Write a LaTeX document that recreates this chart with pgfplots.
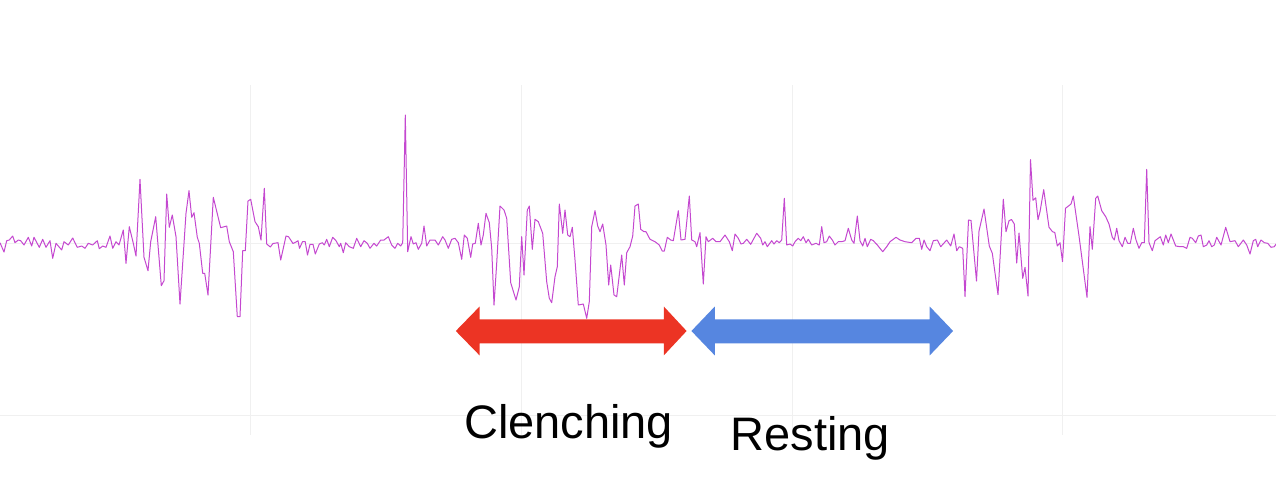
\documentclass[border=0pt]{standalone}
\usepackage{pgfplots}
\pgfplotsset{compat=1.18}
\usepackage{fontspec}
\setmainfont{Liberation Sans}
\definecolor{sig}{RGB}{196,72,208}
\definecolor{redarrow}{RGB}{236,52,36}
\definecolor{bluearrow}{RGB}{86,134,224}
\definecolor{gridc}{RGB}{240,240,240}
\begin{document}
\begin{tikzpicture}
\path[use as bounding box] (0,0) rectangle (1276bp,480bp);
\begin{axis}[
  scale only axis, width=1276bp, height=480bp,
  xmin=0, xmax=1276, ymin=0, ymax=480, y dir=reverse,
  hide axis, clip=true,
]
% grid
\addplot[gridc, line width=1bp] coordinates {(0,243) (1276,243)};
\addplot[gridc, line width=1bp] coordinates {(0,415) (1276,415)};
\addplot[gridc, line width=1bp] coordinates {(250,85) (250,435)};
\addplot[gridc, line width=1bp] coordinates {(521,85) (521,435)};
\addplot[gridc, line width=1bp] coordinates {(792,85) (792,435)};
\addplot[gridc, line width=1bp] coordinates {(1062,85) (1062,435)};
% signal
\addplot[sig, line width=1bp, line join=round] coordinates {
(0,242.7) (4,252) (6.7,240.7) (9.3,240) (12.7,236) (15,242.7) (18.3,240) (20.7,240.7) (24,245) (28.3,237.3) (31.7,246) (34,237.3) (39.3,247.3) (42.7,239.3) (46,247.3) (50,240.7) (52.7,258.3) (56,243.3) (61.7,250) (64,241.7) (68.3,245) (72.7,238) (77.3,247.3) (81.7,246) (85,248.3) (88.3,243.3) (92.7,245) (97.3,240.7) (99.3,248.7) (102.7,246) (106,247.3) (110,236) (112.7,248.3) (116,241.7) (119,245) (123.3,230) (126,263.3) (129.3,226.7) (133.3,243.3) (136,256) (140,179.3) (144,257.3) (148,270.7) (150.7,241.7) (155.7,216.7) (161.3,285.7) (164,280.7) (166.7,194) (169.3,227.3) (172.3,215) (176,236.7) (180,304) (186,213.3) (189,190.7) (191.7,217.3) (194,212.7) (197.3,237.3) (199.3,243.3) (202.7,273.3) (204.7,273.3) (208,295) (213.3,197.3)
(220.7,227.7) (226.7,226) (229.3,241.7) (233.3,251.7) (237.3,316.7) (240,316.7) (242.7,250.7) (245.3,250.7) (248,201) (250.7,199.3) (255,221.7) (258.3,226.7) (261,240) (264.3,188.3) (266.7,244) (270.3,247) (273,243.5) (278,242.7) (280.7,260) (286,236) (288.5,236.7) (293,243.5) (296,242) (298,240.7) (299.5,248.3) (302.5,241.7) (305.2,241.7) (307.5,255) (310,244.3) (313,244.3) (315.3,254) (319.3,244) (322.3,242.7) (324.3,245) (326.7,239.3) (329.3,246.7) (332.7,237.3) (336,240.7) (339.3,246.7) (340.7,243.3) (343.3,252.7) (345.7,242.7) (349.3,246.7) (353.3,248.3) (356.7,238.3) (360.7,246.7) (364,240.7) (367.3,243.3) (370,248.3) (374,243.3) (376.7,246) (380.7,240) (384,240) (388.3,236.7) (391.7,245) (395,248.3) (397.7,243.3) (400.7,246) (402.7,242.7) (405.3,115) (407.7,251.7) (411,236.7) (413.3,244) (416,242.7) (418.3,249.3) (421.7,243.3) (424,226)
(426.7,246) (430,240) (435,240) (438.3,245) (442.7,236.7) (445,240) (448.3,248.3) (451.7,239.3) (455,238.3) (458.3,242.7) (461.7,259.3) (464.3,235) (467.3,238.3) (470.7,257.3) (472.7,244) (475.3,243.3) (478.3,223.3) (481,245) (483.3,235) (486,213.3) (489.3,222.7) (491.7,248.3) (494,305) (496.7,263.3) (500,206) (504,210) (506.7,218.3) (510.7,282.7) (516,300) (519.3,286.7) (521.7,236.7) (524,275) (527.3,210) (529.3,206) (532.3,249.3) (535,219.3) (538.3,221.7) (542.7,233.3) (546.7,281.7) (549.3,298.3) (551.7,302.7) (555,276.7) (557.3,266.7) (559.3,204) (562.7,233.3) (565,210) (567.7,235) (570,236.7) (572.3,227.3) (575,260) (578.3,305) (583.3,304) (586.7,318.3) (589.3,301.7) (591.7,226.7) (595,210.7) (597.7,226) (600,231.7) (602.7,224) (606,245) (608.7,285) (610.7,265) (614,295) (616.7,296.7) (621.7,255) (624.3,285) (626.7,252.7) (630,246.7) (632.7,236) (635,206) (638.3,204)
(640.7,229.3) (644,231.7) (646,231.7) (650,239.3) (655,241.7) (659.3,245) (662.3,251) (664.3,251) (667.3,237.3) (670.7,240) (673.3,240.7) (678.3,210.7) (681,240) (685,239.3) (689.3,196) (691.7,240) (695,241.7) (696.7,246.7) (700,232.7) (703.3,284) (706,236.7) (708.3,241.7) (712.7,238.3) (716,241.7) (720,241.7) (725,235) (729.3,241.7) (732.3,250.7) (735,234) (738.3,238.3) (741,244) (743.3,243.3) (746.7,239.3) (750.7,244.3) (756.7,233.3) (760.7,238.3) (762.7,245) (765,241.7) (767.3,246.7) (771.7,240.7) (774,244) (776.7,240.7) (779.3,242.7) (781.7,240) (784.3,198.3) (786.7,245) (790,244) (792.7,246) (795,241.7) (798.3,238.3) (800.7,240.7) (803.3,236.7) (806,242.7) (808.3,239.3) (811.7,245) (816,243.3) (819.3,245) (821.7,226.7) (824,242.7) (826.7,241.7) (829.3,236) (832.3,240) (835,245) (838.3,241.7) (841.7,241.7) (845,240.7)
(848.3,228.3) (851.7,240) (854,243.3) (857.3,216) (860,240.7) (862.7,246) (865,238.3) (867.3,246.7) (870.7,239.3) (873.3,240.7) (877.3,245) (882.7,251.7) (886.7,246.7) (890,241.7) (896,237.3) (900,240) (905,241.7) (911.7,242.7) (916,238.3) (919.3,238.3) (921.7,249.3) (924,240) (926.7,246.7) (930,250.7) (933.3,240.7) (937.3,240) (940.7,246.7) (946.7,240) (950.7,246) (954,234) (956.7,250.7) (959.3,246.7) (962.7,248.3) (965,296.5) (968.5,220) (971,220.5) (976.5,281) (979,231) (984,209) (989.3,246) (992.3,253.3) (998,294.7) (1003.3,199.2) (1006,231.7) (1009,220.7) (1011.5,219.5) (1014.3,224) (1016.7,263) (1019,233) (1022.7,278.3) (1025,267.3) (1028,296) (1030.5,159.7) (1033,200.3) (1035.7,197.8) (1038,219.7) (1040,211.7) (1043.7,189.6) (1049,227.3) (1052.5,231.7) (1054.8,232.5) (1057.3,246) (1060,242.7) (1062.5,261.7) (1065.5,208.3) (1071,204) (1073.3,196) (1079,236) (1087,297.3) (1090,226.7) (1092.3,249.3) (1095.7,198.3) (1097.7,196) (1101.7,210.7) (1105.7,216.7) (1109,224) (1112.3,237.3) (1114.3,240) (1116.7,228.3) (1119,240.7) (1122.3,246.7) (1125,237.3) (1127.7,243.3) (1130.3,243.3) (1133.3,228.3) (1136,240) (1139,248.3) (1141.7,242.7) (1144.3,242.7) (1146.7,169.3) (1149,242.7) (1152.3,250.7) (1155,240.7) (1160.3,236.7) (1163.3,245) (1165.7,235) (1168.3,242.7) (1171,234) (1175.7,246) (1180,246.7) (1183.3,246.7) (1186.7,248.3) (1190,237.3) (1192.3,238.3) (1195.7,242.7) (1198.3,236) (1201,235) (1203.3,246.7) (1206.7,245) (1209,240.7) (1211.7,246.7) (1214.3,245) (1216.7,237.3) (1221,245) (1225.7,227.3) (1230,241.7) (1235,240.7) (1238.3,246.7) (1243.3,240) (1246.7,245) (1250,254) (1253.3,240.7) (1255.7,239.3) (1257.7,246.7) (1261,240) (1264.3,242.7) (1267.7,243.3) (1271,247.3) (1274.3,246.7) (1276,244)
};
% arrows
\addplot[fill=redarrow, draw=none] coordinates {(455.8,331) (479.6,306.5) (479.6,319.3) (663.8,319.3) (663.8,306.5) (686.6,331) (663.8,355.4) (663.8,343.4) (479.6,343.4) (479.6,355.4)} --cycle;
\addplot[fill=bluearrow, draw=none] coordinates {(691.4,331) (714.8,306.5) (714.8,319.3) (929.7,319.3) (929.7,306.5) (953.1,331) (929.7,355.4) (929.7,343.4) (714.8,343.4) (714.8,355.4)} --cycle;
\node[anchor=base, inner sep=0pt, font=\fontsize{47bp}{51bp}\selectfont] at (axis cs:568.6,438.5) {Clenching};
\node[anchor=base, inner sep=0pt, font=\fontsize{47bp}{51bp}\selectfont] at (axis cs:810.2,450.5) {Resting};
\end{axis}
\end{tikzpicture}
\end{document}
